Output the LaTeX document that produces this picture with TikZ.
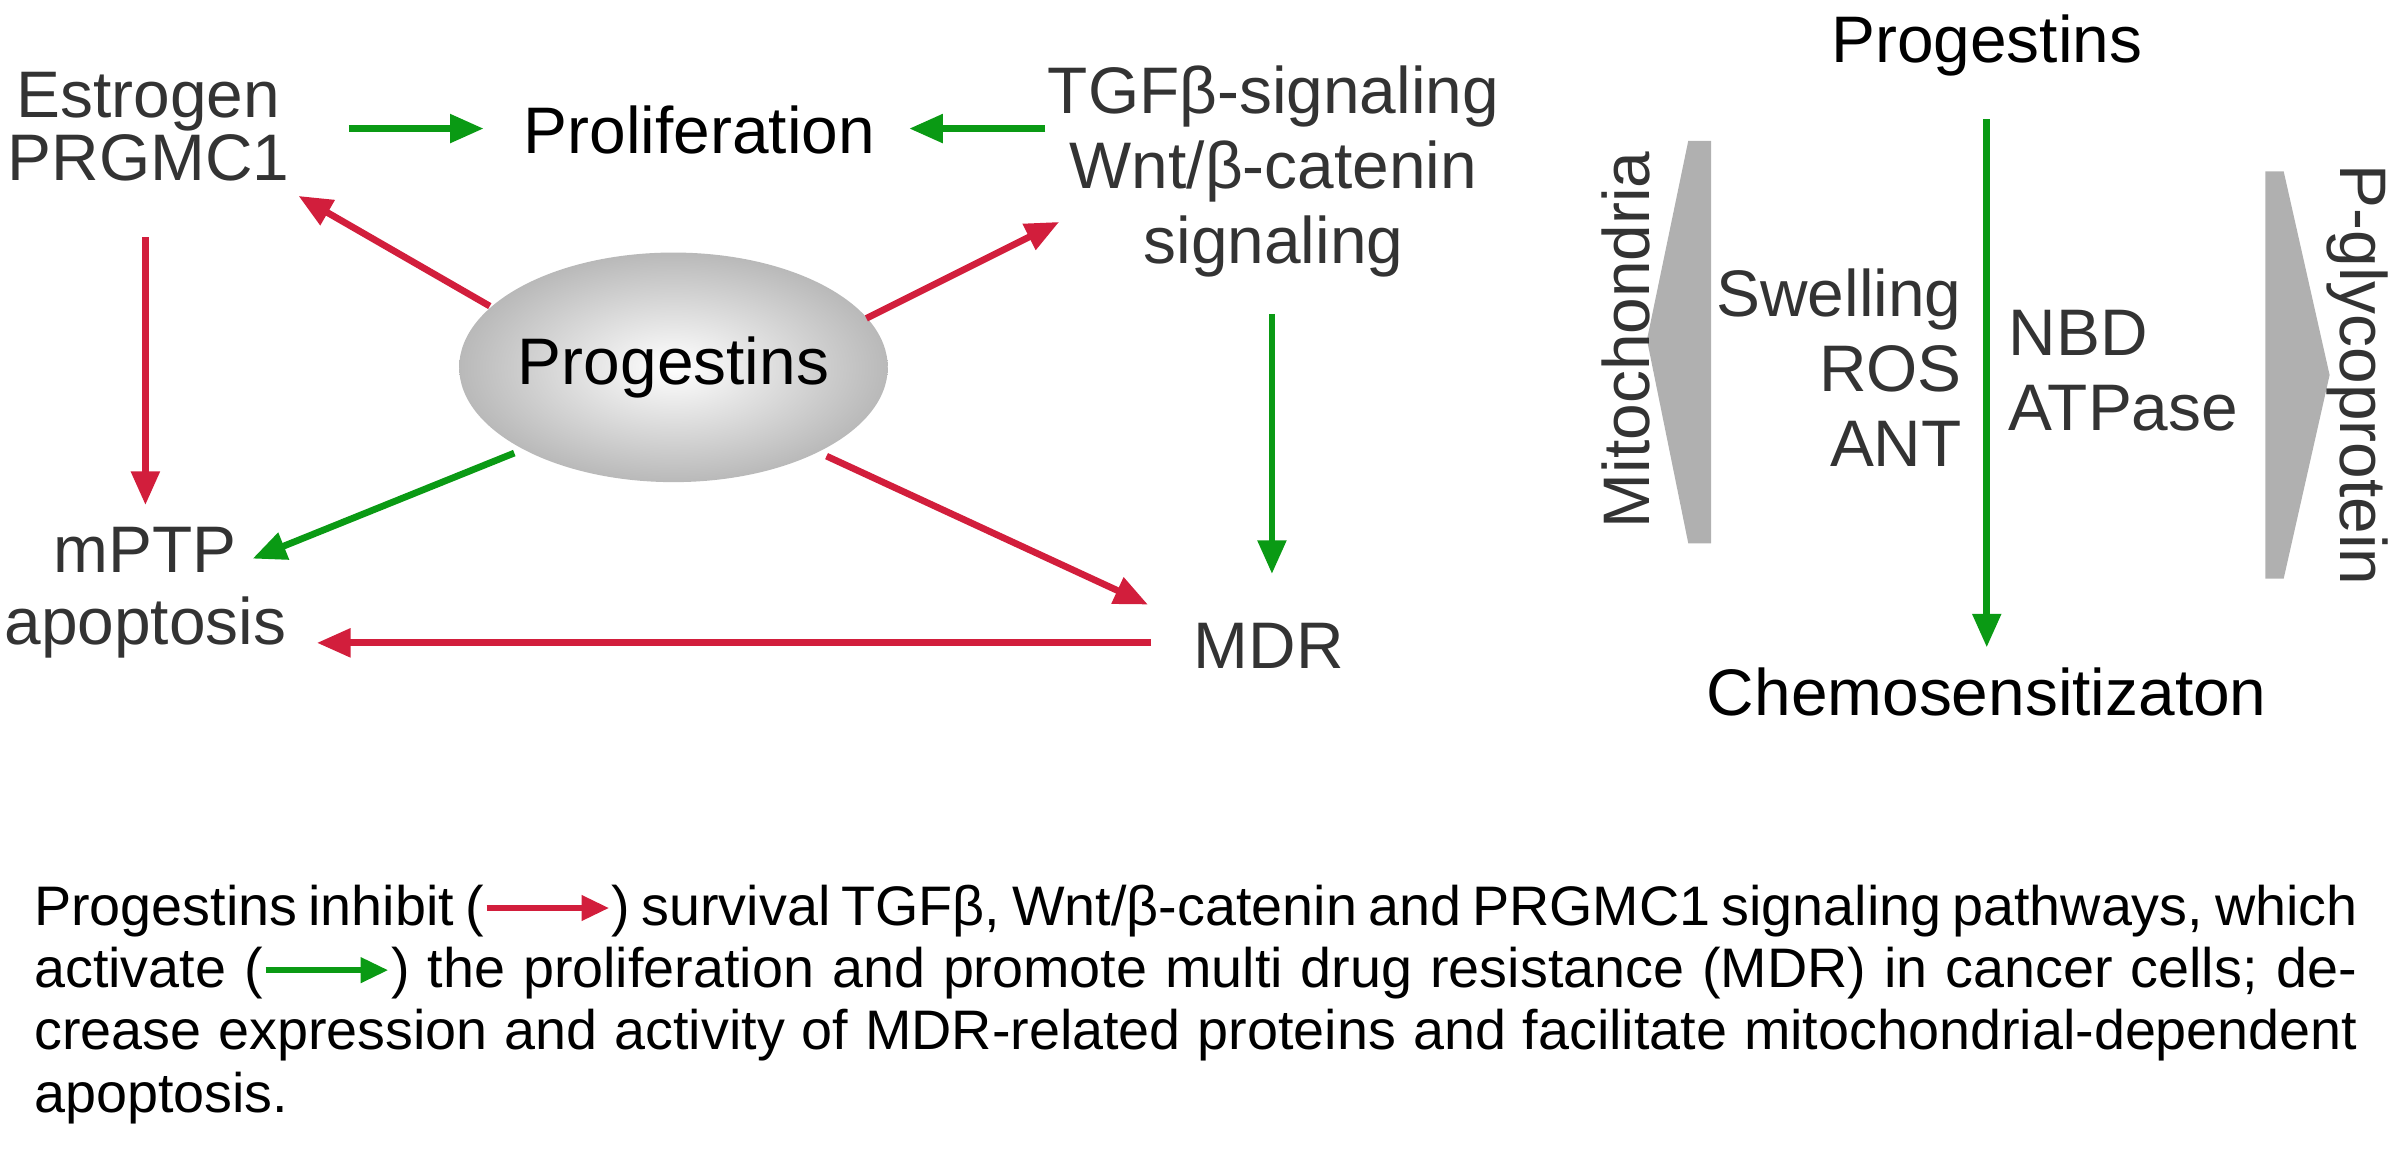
\documentclass[tikz,border=0pt]{standalone}
\usepackage{fontspec}
\setmainfont{Liberation Sans}
\usetikzlibrary{arrows.meta}
\definecolor{rd}{HTML}{D21E3C}
\definecolor{gr}{HTML}{0A9A14}
\definecolor{tx}{HTML}{333333}
\definecolor{wg}{HTML}{B0B0B0}
\begin{document}
\begin{tikzpicture}[x=0.5pt,y=-0.5pt,
  lab/.style={font=\fontsize{21.5}{24.5}\selectfont,text=tx,align=center,inner sep=0},
  blk/.style={lab,text=black},
  ra/.style={draw=rd,line width=2.2pt,-{Triangle[length=11pt,width=9pt]}},
  ga/.style={draw=gr,line width=2.2pt,-{Triangle[length=11pt,width=9pt]}}]
\useasboundingbox (0,0) rectangle (1568,758);
% left panel
\node[lab,font=\fontsize{21.5}{20.5}\selectfont] (est) at (97,83) {Estrogen\\PRGMC1};
\node[blk] (pro) at (457,85) {Proliferation};
\node[lab] (tgf) at (832,112) {TGFβ-signaling\\Wnt/β-catenin\\signaling};
\node[lab,font=\fontsize{21.5}{23.5}\selectfont] (mptp) at (95,387) {mPTP\\apoptosis};
\node[lab] (mdr) at (829,422) {MDR};
\shade[inner color=white,outer color=gray!55] (440,240) ellipse [x radius=140,y radius=75];
\node[blk] (prg) at (440,240) {Progestins};
\coordinate (g1a) at (228,84); \coordinate (g1b) at (316,84);
\coordinate (g2a) at (683,84); \coordinate (g2b) at (594,84);
\coordinate (g3a) at (831,205); \coordinate (g3b) at (831,375);
\coordinate (g4a) at (336,296); \coordinate (g4b) at (165,365);
\draw[ga] (g1a) -- (g1b);
\draw[ga] (g2a) -- (g2b);
\draw[ga] (g3a) -- (g3b);
\draw[ga] (g4a) -- (g4b);
\coordinate (r1a) at (320,200); \coordinate (r1b) at (195,128);
\coordinate (r2a) at (566,208); \coordinate (r2b) at (692,145);
\coordinate (r3a) at (540,298); \coordinate (r3b) at (750,395);
\coordinate (r4a) at (95,155); \coordinate (r4b) at (95,330);
\coordinate (r5a) at (752,420); \coordinate (r5b) at (207,420);
\draw[ra] (r1a) -- (r1b);
\draw[ra] (r2a) -- (r2b);
\draw[ra] (r3a) -- (r3b);
\draw[ra] (r4a) -- (r4b);
\draw[ra] (r5a) -- (r5b);
% right panel
\node[blk] (p2) at (1298,30) {Progestins};
\node[blk] (chem) at (1298,452) {Chemosensitizaton};
\coordinate (va) at (1298,78); \coordinate (vb) at (1298,423);
\draw[ga] (va) -- (vb);
\fill[wg] (1118,92) -- (1118,355) -- (1103,355) -- (1076,222) -- (1103,92) -- cycle;
\fill[wg] (1480,112) -- (1492,112) -- (1522,245) -- (1492,378) -- (1480,378) -- cycle;
\node[lab,rotate=90] (mito) at (1062,222) {Mitochondria};
\node[lab,rotate=-90] (pgp) at (1540,245) {P-glycoprotein};
\node[lab,align=right,anchor=east] (sw) at (1282,240) {Swelling\\ROS\\ANT};
\node[lab,align=left,anchor=west] (nbd) at (1312,242) {NBD\\ATPase};
% caption
\node[anchor=north west,inner sep=0,text=black] (cap) at (22,578) {\parbox{759pt}{\fontsize{18.2}{20.3}\selectfont
Progestins inhibit (\tikz[baseline=-0.6ex]\draw[draw=rd,line width=1.9pt,-{Triangle[length=9pt,width=8pt]}] (0,0) -- (40pt,0);) survival TGFβ, Wnt/β-catenin and PRGMC1 signaling pathways, which activate (\tikz[baseline=-0.6ex]\draw[draw=gr,line width=1.9pt,-{Triangle[length=9pt,width=8pt]}] (0,0) -- (40pt,0);) the proliferation and promote multi drug resistance (MDR) in cancer cells; decrease expression and activity of MDR-related proteins and facilitate mitochondrial-dependent apoptosis.}};
\end{tikzpicture}
\end{document}
